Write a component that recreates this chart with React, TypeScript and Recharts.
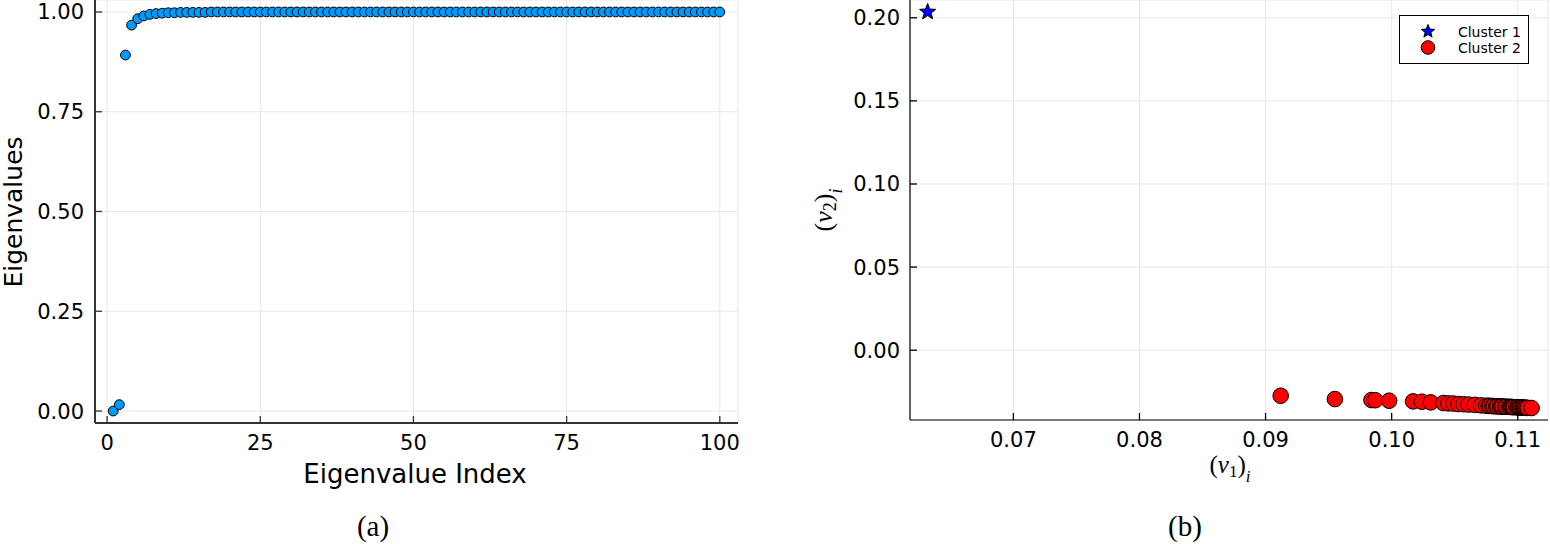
import {
  ScatterChart,
  Scatter,
  XAxis,
  YAxis,
  CartesianGrid,
  Legend,
  Label,
} from "recharts";

// (a) eigenvalues of the normalized graph Laplacian, index 1..100
const eigenvalues = [
  0.0, 0.016, 0.892, 0.967, 0.983, 0.99, 0.994, 0.996, 0.997, 0.998,
  0.998, 0.999, 0.999, 0.999, 0.999, 0.999, 1.0, 1.0, 1.0, 1.0,
  1.0, 1.0, 1.0, 1.0, 1.0, 1.0, 1.0, 1.0, 1.0, 1.0,
  1.0, 1.0, 1.0, 1.0, 1.0, 1.0, 1.0, 1.0, 1.0, 1.0,
  1.0, 1.0, 1.0, 1.0, 1.0, 1.0, 1.0, 1.0, 1.0, 1.0,
  1.0, 1.0, 1.0, 1.0, 1.0, 1.0, 1.0, 1.0, 1.0, 1.0,
  1.0, 1.0, 1.0, 1.0, 1.0, 1.0, 1.0, 1.0, 1.0, 1.0,
  1.0, 1.0, 1.0, 1.0, 1.0, 1.0, 1.0, 1.0, 1.0, 1.0,
  1.0, 1.0, 1.0, 1.0, 1.0, 1.0, 1.0, 1.0, 1.0, 1.0,
  1.0, 1.0, 1.0, 1.0, 1.0, 1.0, 1.0, 1.0, 1.0, 1.0,
];
const leftXTicks = [0, 25, 50, 75, 100];
const leftYTicks = [0, 0.25, 0.5, 0.75, 1.0];

// (b) entries of the first two eigenvectors
const cluster1X = [0.0632];
const cluster1Y = [0.2035];
const cluster2X = [
  0.0912, 0.0955, 0.0984, 0.0987, 0.0998, 0.1017, 0.1024, 0.1031, 0.1041, 0.1045,
  0.1049, 0.1053, 0.1057, 0.1061, 0.1066, 0.1071, 0.1075, 0.1077, 0.1078, 0.108,
  0.1081, 0.1083, 0.1084, 0.1086, 0.1087, 0.1088, 0.109, 0.1091, 0.1093, 0.1094,
  0.1095, 0.1096, 0.1097, 0.1099, 0.11, 0.1101, 0.1102, 0.1103, 0.1104, 0.1105,
  0.1106, 0.1107, 0.1108, 0.1111,
];
const cluster2Y = [
  -0.0274, -0.0294, -0.03, -0.0301, -0.0304, -0.0308, -0.031, -0.0314, -0.0318, -0.032,
  -0.0321, -0.0324, -0.0325, -0.0327, -0.0329, -0.0332, -0.0334, -0.0335, -0.0335, -0.0336,
  -0.0337, -0.0337, -0.0338, -0.0338, -0.0339, -0.0339, -0.034, -0.034, -0.0341, -0.0341,
  -0.0342, -0.0342, -0.0343, -0.0343, -0.0344, -0.0344, -0.0345, -0.0345, -0.0345, -0.0346,
  -0.0346, -0.0347, -0.0347, -0.0348,
];
const rightXTicks = [0.07, 0.08, 0.09, 0.1, 0.11];
const rightYTicks = [0, 0.05, 0.1, 0.15, 0.2];

const eigenData = eigenvalues.map((v, i) => ({ x: i + 1, y: v }));
const c1Data = cluster1X.map((x, i) => ({ x, y: cluster1Y[i] }));
const c2Data = cluster2X.map((x, i) => ({ x, y: cluster2Y[i] }));

const SANS = "DejaVu Sans";
const SERIF = "Liberation Serif, DejaVu Serif, serif";
const TICK_FONT = 21;

const fmtInt = (v: number) => String(v);
const fmt2 = (v: number) => v.toFixed(2);

const yTick =
  (gap: number, color: string, fmt: (v: number) => string) => (props: any) => {
    const { x, y, payload } = props;
    return (
      <g>
        <line x1={x + gap} x2={x + gap + 7} y1={y} y2={y} stroke={color} strokeWidth={1.3} />
        <text
          x={x}
          y={y + 7.5}
          textAnchor="end"
          fontSize={TICK_FONT}
          fontFamily={SANS}
          fill="#000"
        >
          {fmt(payload.value)}
        </text>
      </g>
    );
  };

const xTick =
  (gap: number, color: string, fmt: (v: number) => string) => (props: any) => {
    const { x, y, payload } = props;
    return (
      <g>
        <line x1={x} x2={x} y1={y - gap} y2={y - gap - 7} stroke={color} strokeWidth={1.3} />
        <text
          x={x}
          y={y + 15}
          textAnchor="middle"
          fontSize={TICK_FONT}
          fontFamily={SANS}
          fill="#000"
        >
          {fmt(payload.value)}
        </text>
      </g>
    );
  };

const BlueDot = (props: any) => (
  <circle cx={props.cx} cy={props.cy} r={4.9} fill="#009AFA" stroke="#000" strokeWidth={1} />
);

const RedDot = (props: any) => (
  <circle cx={props.cx} cy={props.cy} r={7.8} fill="#FF0000" stroke="#000" strokeWidth={1} />
);

const starPoints = (cx: number, cy: number, ro: number, ri: number) => {
  const pts: string[] = [];
  for (let k = 0; k < 10; k++) {
    const r = k % 2 === 0 ? ro : ri;
    const a = -Math.PI / 2 + (k * Math.PI) / 5;
    pts.push(`${cx + r * Math.cos(a)},${cy + r * Math.sin(a)}`);
  }
  return pts.join(" ");
};

const BlueStar = (props: any) => (
  <polygon points={starPoints(props.cx, props.cy, 8.5, 3.6)} fill="#0000FF" stroke="#000" strokeWidth={1} />
);

const ClusterLegend = () => (
  <svg width={130} height={49} style={{ display: "block" }}>
    <rect x={0.5} y={0.5} width={129} height={48} fill="#fff" stroke="#000" strokeWidth={1} />
    <polygon points={starPoints(29, 16.5, 7, 3)} fill="#0000FF" stroke="#000" strokeWidth={1} />
    <circle cx={29} cy={32.5} r={6.8} fill="#FF0000" stroke="#000" strokeWidth={1} />
    <text x={122} y={21.5} textAnchor="end" fontSize={14} fontFamily={SANS} fill="#000">
      Cluster 1
    </text>
    <text x={122} y={37.5} textAnchor="end" fontSize={14} fontFamily={SANS} fill="#000">
      Cluster 2
    </text>
  </svg>
);

const leftXLabel = () => (
  <text x={415} y={483} textAnchor="middle" fontSize={26} fontFamily={SANS} fill="#000">
    Eigenvalue Index
  </text>
);

const leftYLabel = () => (
  <text
    transform="translate(22,212) rotate(-90)"
    textAnchor="middle"
    fontSize={25}
    fontFamily={SANS}
    fill="#000"
  >
    Eigenvalues
  </text>
);

const rightXLabel = () => (
  <text x={440} y={473} textAnchor="middle" fontSize={25} fontFamily={SERIF} fill="#000">
    <tspan>(</tspan>
    <tspan fontStyle="italic">ν</tspan>
    <tspan fontSize={17} dy={4}>1</tspan>
    <tspan dy={-4}>)</tspan>
    <tspan fontStyle="italic" fontSize={17} dy={9}>i</tspan>
  </text>
);

const rightYLabel = () => (
  <text
    transform="translate(42,210) rotate(-90)"
    textAnchor="middle"
    fontSize={26}
    fontFamily={SERIF}
    fill="#000"
  >
    <tspan>(</tspan>
    <tspan fontStyle="italic">ν</tspan>
    <tspan fontSize={18} dy={4}>2</tspan>
    <tspan dy={-4}>)</tspan>
    <tspan fontStyle="italic" fontSize={18} dy={10}>i</tspan>
  </text>
);

export default function App() {
  return (
    <div style={{ position: "absolute", left: 0, top: 0, width: 1550, height: 544, background: "#fff" }}>
      <div style={{ position: "absolute", left: 0, top: 0 }}>
        <ScatterChart width={760} height={544} margin={{ top: 0, right: 22, bottom: 0, left: 0 }}>
          <CartesianGrid stroke="#e8e8e8" strokeWidth={1} />
          <XAxis
            type="number"
            dataKey="x"
            domain={[-1.97, 102.97]}
            ticks={leftXTicks}
            allowDataOverflow
            height={121}
            tickSize={0}
            tickMargin={12}
            axisLine={{ stroke: "#333", strokeWidth: 2 }}
            tickLine={false}
            tick={xTick(12, "#333", fmtInt)}
          >
            <Label content={leftXLabel} />
          </XAxis>
          <YAxis
            type="number"
            dataKey="y"
            domain={[-0.03, 1.03]}
            ticks={leftYTicks}
            allowDataOverflow
            width={95}
            tickSize={0}
            tickMargin={11}
            axisLine={{ stroke: "#333", strokeWidth: 2 }}
            tickLine={false}
            tick={yTick(11, "#333", fmt2)}
          >
            <Label content={leftYLabel} />
          </YAxis>
          <Scatter data={eigenData} shape={BlueDot} isAnimationActive={false} />
        </ScatterChart>
      </div>
      <div style={{ position: "absolute", left: 790, top: 0 }}>
        <ScatterChart width={760} height={544} margin={{ top: 0, right: 2, bottom: 0, left: 0 }}>
          <CartesianGrid stroke="#e8e8e8" strokeWidth={1} />
          <XAxis
            type="number"
            dataKey="x"
            domain={[0.0618, 0.1124]}
            ticks={rightXTicks}
            allowDataOverflow
            height={124}
            tickSize={0}
            tickMargin={12}
            axisLine={{ stroke: "#000", strokeWidth: 1.2 }}
            tickLine={false}
            tick={xTick(12, "#000", fmt2)}
          >
            <Label content={rightXLabel} />
          </XAxis>
          <YAxis
            type="number"
            dataKey="y"
            domain={[-0.042, 0.2107]}
            ticks={rightYTicks}
            allowDataOverflow
            width={120}
            tickSize={0}
            tickMargin={10}
            axisLine={{ stroke: "#000", strokeWidth: 1.2 }}
            tickLine={false}
            tick={yTick(10, "#000", fmt2)}
          >
            <Label content={rightYLabel} />
          </YAxis>
          <Legend
            layout="vertical"
            align="center"
            verticalAlign="middle"
            content={ClusterLegend}
            wrapperStyle={{ left: 609, top: 15, width: 130, height: 49 }}
          />
          <Scatter name="Cluster 1" data={c1Data} shape={BlueStar} isAnimationActive={false} />
          <Scatter name="Cluster 2" data={c2Data} shape={RedDot} isAnimationActive={false} />
        </ScatterChart>
      </div>
      <svg width={1550} height={544} style={{ position: "absolute", left: 0, top: 0, pointerEvents: "none" }}>
        <text x={373} y={536} textAnchor="middle" fontSize={29} fontFamily={SERIF} fill="#000">
          (a)
        </text>
        <text x={1185} y={536} textAnchor="middle" fontSize={29} fontFamily={SERIF} fill="#000">
          (b)
        </text>
      </svg>
    </div>
  );
}
